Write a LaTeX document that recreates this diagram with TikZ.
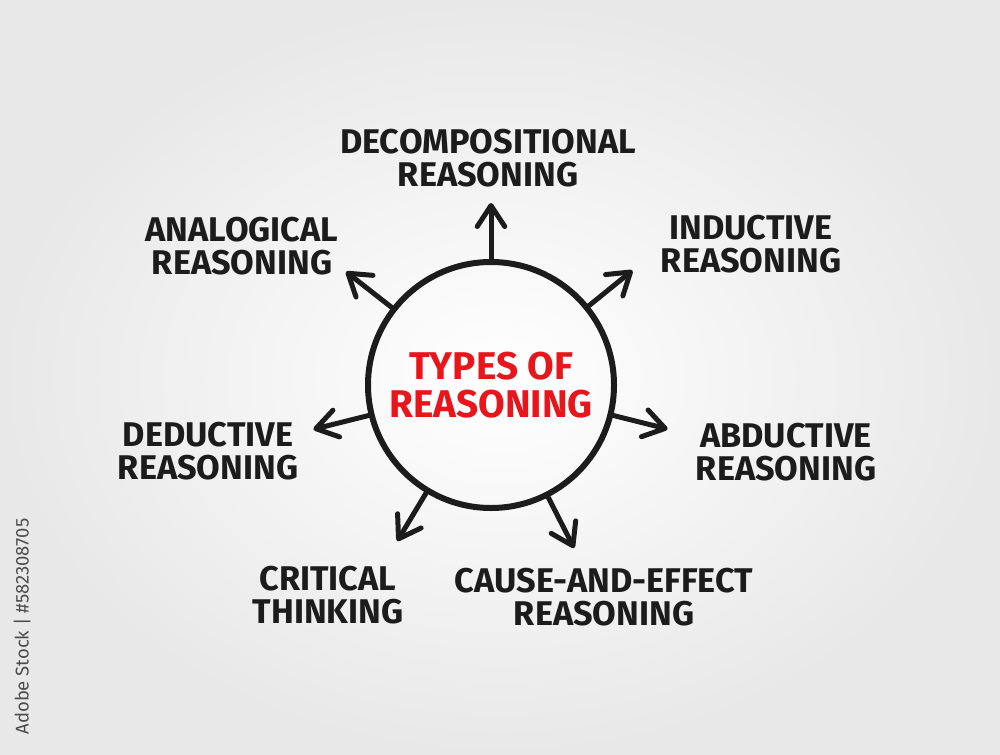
\documentclass[tikz,border=0pt]{standalone}
\usepackage{fontspec}
\setmainfont{Fira Sans}
\usetikzlibrary{arrows.meta}
\definecolor{ink}{HTML}{1C1C1C}
\definecolor{redink}{HTML}{E8161B}
\tikzset{
  label/.style={text=ink, align=center, font=\bfseries\fontsize{19.5}{18.5}\selectfont},
  hub/.style={circle, draw=ink, line width=0.12cm, minimum size=4.92cm, inner sep=0pt,
    text=redink, align=center, font=\bfseries\fontsize{22}{22}\selectfont},
  spoke/.style={draw=ink, line width=0.1cm, line cap=round,
    -{Straight Barb[length=0.42cm,width=0.55cm,round]}}
}
\begin{document}
\begin{tikzpicture}
\def\cx{9.82}
\def\cy{-7.70}
\shade[inner color=white, outer color=black!9] (0,0) rectangle (20,-15.1);
\useasboundingbox (0,0) rectangle (20,-15.1);
% stock id on the left edge
\node[rotate=90, text=black!70, font=\fontsize{10.5}{10.5}\selectfont] (stockid) at (0.44,-12.53) {Adobe Stock | \#582308705};
\node[hub] (hub) at (\cx,\cy) {TYPES OF\\REASONING};
\node[label] (dec) at (9.76,-3.16) {DECOMPOSITIONAL\\REASONING};
\node[label] (ana) at (4.84,-4.92) {ANALOGICAL\\REASONING};
\node[label] (ind) at (15.02,-4.88) {INDUCTIVE\\REASONING};
\node[label] (ded) at (4.16,-9.02) {DEDUCTIVE\\REASONING};
\node[label] (abd) at (15.72,-9.04) {ABDUCTIVE\\REASONING};
\node[label] (cri) at (6.56,-11.9) {CRITICAL\\THINKING};
\node[label] (cau) at (12.08,-11.94) {CAUSE-AND-EFFECT\\REASONING};
% arrow tips
\coordinate (tDec) at ([shift={(90:3.64)}]hub.center);
\coordinate (tAna) at ([shift={(142:3.68)}]hub.center);
\coordinate (tInd) at ([shift={(39:3.64)}]hub.center);
\coordinate (tDed) at ([shift={(194:3.66)}]hub.center);
\coordinate (tAbd) at ([shift={(-14:3.64)}]hub.center);
\coordinate (tCri) at ([shift={(239:3.64)}]hub.center);
\coordinate (tCau) at ([shift={(-63:3.66)}]hub.center);
\draw[spoke] (hub.90) -- (tDec);
\draw[spoke] (hub.142) -- (tAna);
\draw[spoke] (hub.39) -- (tInd);
\draw[spoke] (hub.194) -- (tDed);
\draw[spoke] (hub.-14) -- (tAbd);
\draw[spoke] (hub.239) -- (tCri);
\draw[spoke] (hub.-63) -- (tCau);
\end{tikzpicture}
\end{document}
